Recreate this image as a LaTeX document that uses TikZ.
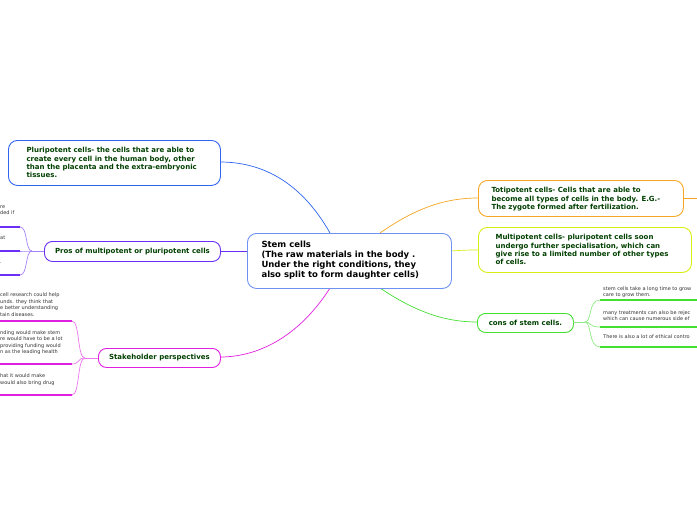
\documentclass[tikz,border=0pt]{standalone}
\usepackage{fontspec}
\setmainfont{DejaVu Sans}
\begin{document}
\begin{tikzpicture}[x=1pt,y=-1pt,
  topic/.style={draw,line width=0.9pt,rounded corners=9pt,fill=white,inner sep=0pt},
  ttl/.style={font=\fontsize{7}{8.3}\selectfont\bfseries,text=green!25!black,align=left,anchor=north west},
  sm/.style={font=\fontsize{5}{6.6}\selectfont,text=black!80,align=left,anchor=north west,inner sep=0pt},
  con/.style={line width=0.7pt}]
\useasboundingbox (0,0) rectangle (697,520);
\clip (0,0) rectangle (697,520);
\fill[white] (0,0) rectangle (697,520);
\definecolor{cblue}{HTML}{2E64F0}
\definecolor{corange}{HTML}{F5A623}
\definecolor{cyel}{HTML}{D8EE10}
\definecolor{cgreen}{HTML}{44E030}
\definecolor{cpurp}{HTML}{6A2EF5}
\definecolor{cmag}{HTML}{E020E0}
% connectors
\draw[con,cblue] (330,233) .. controls (300,180) and (260,162) .. (220,162);
\draw[con,corange] (380,233) .. controls (420,205) and (450,198) .. (478,198);
\draw[con,cyel] (451,251) .. controls (465,250) and (470,250) .. (478,250);
\draw[con,cgreen] (380,288) .. controls (420,315) and (450,322) .. (477,322);
\draw[con,cpurp] (247,251) -- (220,251);
\draw[con,cmag] (330,288) .. controls (300,335) and (260,357) .. (220,357);
\draw[con,corange] (683,198) -- (697,198);
% center
\node[topic,draw=cblue!70,minimum width=204pt,minimum height=55pt,anchor=north west] (c) at (247,233) {};
\node[font=\fontsize{8.5}{10}\selectfont\bfseries,align=left,anchor=north west] (ct) at (258,238) {Stem cells\\(The raw materials in the body .\\Under the right conditions, they\\also split to form daughter cells)};
% pluripotent
\node[topic,draw=cblue,minimum width=212pt,minimum height=45pt,anchor=north west] (p) at (8,140) {};
\node[ttl] (pt) at (23,144) {Pluripotent cells- the cells that are able to\\create every cell in the human body, other\\than the placenta and the extra-embryonic\\tissues.};
% totipotent
\node[topic,draw=corange,minimum width=205pt,minimum height=36pt,anchor=north west] (t) at (478,180) {};
\node[ttl] (tt) at (488,184) {Totipotent cells- Cells that are able to\\become all types of cells in the body. E.G.-\\The zygote formed after fertilization.};
% multipotent
\node[topic,draw=cyel,minimum width=213pt,minimum height=45pt,anchor=north west] (m) at (478,227) {};
\node[ttl] (mt) at (492,231) {Multipotent cells- pluripotent cells soon\\undergo further specialisation, which can\\give rise to a limited number of other types\\of cells.};
% cons
\node[topic,draw=cgreen,minimum width=96pt,minimum height=19pt,anchor=north west,rounded corners=8pt] (k) at (477,313) {};
\node[ttl,anchor=center] (kt) at (k.center) {cons of stem cells.};
% pros
\node[topic,draw=cpurp,minimum width=176pt,minimum height=20pt,anchor=north west,rounded corners=8pt] (r) at (44,241) {};
\node[ttl,anchor=center] (rt) at (r.center) {Pros of multipotent or pluripotent cells};
% stakeholder
\node[topic,draw=cmag,minimum width=122pt,minimum height=19pt,anchor=north west,rounded corners=8pt] (s) at (98,348) {};
\node[ttl,anchor=center] (st) at (s.center) {Stakeholder perspectives};
% cons subs
\draw[con,cgreen!60] (573,322) -- (585,322);
\foreach \yy in {300,327,347}{
  \draw[con,cgreen!60] (585,322) .. controls (592,322) and (588,\yy) .. (600,\yy);
  \draw[line width=1.2pt,cgreen] (600,\yy) -- (697,\yy);}
\node[sm] (k1) at (603,286) {stem cells take a long time to grow\\care to grow them.};
\node[sm] (k2) at (603,310) {many treatments can also be rejec\\which can cause numerous side ef};
\node[sm] (k3) at (603,334) {There is also a lot of ethical contro};
% pros subs
\draw[con,cpurp!60] (44,251) -- (32,251);
\foreach \yy in {227,251,275}{
  \draw[con,cpurp!60] (32,251) .. controls (25,251) and (28,\yy) .. (20,\yy);
  \draw[line width=1.2pt,cpurp] (20,\yy) -- (0,\yy);}
\node[sm] (r1) at (0,205) {re\\ded if};
\node[sm] (r2) at (0,236) {at};
\node[sm] (r3) at (0,262) {.};
% stakeholder subs
\draw[con,cmag!60] (98,358) -- (85,358);
\foreach \yy in {321,364,395}{
  \draw[con,cmag!60] (85,358) .. controls (77,358) and (80,\yy) .. (72,\yy);
  \draw[line width=1.2pt,cmag] (72,\yy) -- (0,\yy);}
\node[sm] (s1) at (0,292.5) {cell research could help\\unds. they think that\\e better understanding\\tain diseases.};
\node[sm] (s2) at (0,330) {nding would make stem\\re would have to be a lot\\ providing funding would\\n as the leading health};
\node[sm] (s3) at (0,373.5) {hat it would make\\ would also bring drug};
\end{tikzpicture}
\end{document}
